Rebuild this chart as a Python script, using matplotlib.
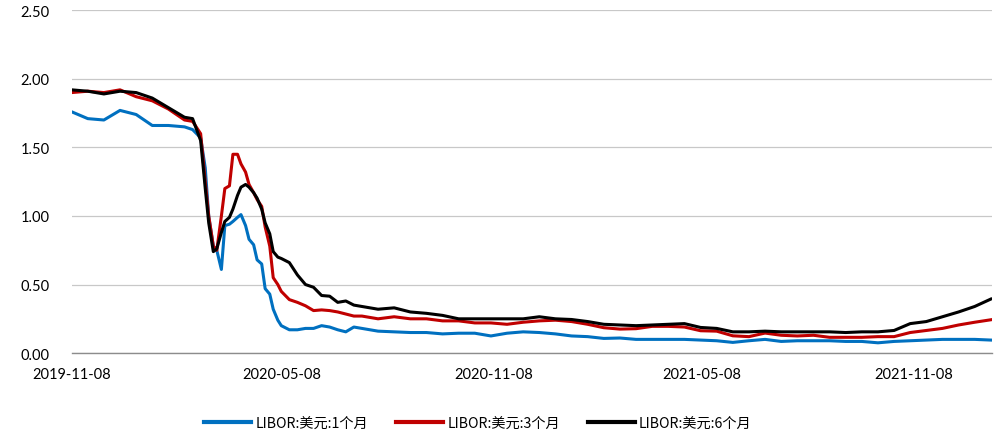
import matplotlib
matplotlib.use("Agg")
import matplotlib.pyplot as plt
import pandas as pd

dates = ["2019-11-08","2019-11-22","2019-12-06","2019-12-20","2020-01-03","2020-01-17","2020-01-31",
         "2020-02-14","2020-02-21","2020-02-28","2020-03-03","2020-03-06","2020-03-10","2020-03-13",
         "2020-03-17","2020-03-20","2020-03-24","2020-03-27","2020-03-31","2020-04-03","2020-04-07",
         "2020-04-10","2020-04-14","2020-04-17","2020-04-21","2020-04-24","2020-04-28","2020-05-01",
         "2020-05-05","2020-05-08","2020-05-15","2020-05-22","2020-05-29","2020-06-05","2020-06-12",
         "2020-06-19","2020-06-26","2020-07-03","2020-07-10","2020-07-17","2020-07-31","2020-08-14",
         "2020-08-28","2020-09-11","2020-09-25","2020-10-09","2020-10-23","2020-11-06","2020-11-20",
         "2020-12-04","2020-12-18","2021-01-01","2021-01-15","2021-01-29","2021-02-12","2021-02-26",
         "2021-03-12","2021-03-26","2021-04-09","2021-04-23","2021-05-07","2021-05-21","2021-06-04",
         "2021-06-18","2021-07-02","2021-07-16","2021-07-30","2021-08-13","2021-08-27","2021-09-10",
         "2021-09-24","2021-10-08","2021-10-22","2021-11-05","2021-11-19","2021-12-03","2021-12-17",
         "2021-12-31","2022-01-14"]

libor_1m = [1.76,1.71,1.70,1.77,1.74,1.66,1.66,
            1.65,1.63,1.57,1.35,1.00,0.78,0.75,
            0.61,0.93,0.94,0.96,0.99,1.01,0.93,
            0.83,0.79,0.68,0.65,0.47,0.43,0.32,
            0.24,0.20,0.17,0.17,0.18,0.18,0.20,
            0.19,0.17,0.155,0.19,0.18,0.16,0.155,
            0.15,0.15,0.14,0.145,0.145,0.125,0.145,
            0.155,0.15,0.14,0.125,0.12,0.107,0.11,
            0.10,0.10,0.10,0.10,0.095,0.09,0.078,
            0.09,0.10,0.085,0.09,0.09,0.09,0.085,
            0.085,0.075,0.085,0.09,0.095,0.10,0.10,
            0.10,0.095]

libor_3m = [1.90,1.91,1.90,1.92,1.87,1.84,1.78,
            1.70,1.69,1.60,1.25,1.00,0.78,0.75,
            1.00,1.20,1.22,1.45,1.45,1.38,1.32,
            1.23,1.17,1.12,1.07,0.92,0.78,0.55,
            0.50,0.45,0.39,0.37,0.345,0.31,0.315,
            0.31,0.30,0.285,0.27,0.27,0.25,0.265,
            0.25,0.25,0.235,0.235,0.22,0.22,0.21,
            0.225,0.235,0.24,0.23,0.21,0.185,0.175,
            0.178,0.195,0.195,0.19,0.163,0.16,0.126,
            0.12,0.146,0.13,0.125,0.13,0.115,0.115,
            0.115,0.12,0.12,0.15,0.165,0.18,0.205,
            0.225,0.243]

libor_6m = [1.92,1.91,1.89,1.91,1.90,1.86,1.79,
            1.72,1.71,1.55,1.20,0.95,0.74,0.76,
            0.88,0.96,0.99,1.05,1.15,1.21,1.23,
            1.21,1.17,1.13,1.05,0.95,0.87,0.74,
            0.70,0.69,0.66,0.57,0.50,0.48,0.42,
            0.415,0.37,0.38,0.35,0.34,0.32,0.33,
            0.30,0.29,0.275,0.25,0.25,0.25,0.25,
            0.25,0.265,0.25,0.245,0.23,0.21,0.205,
            0.20,0.205,0.21,0.215,0.187,0.18,0.155,
            0.155,0.16,0.155,0.155,0.155,0.155,0.15,
            0.155,0.155,0.165,0.215,0.23,0.265,0.30,
            0.34,0.394]

series_names = ["LIBOR:美元:1个月", "LIBOR:美元:3个月", "LIBOR:美元:6个月"]
series_colors = ["#0070C0", "#C00000", "#000000"]
tick_dates = ["2019-11-08", "2020-05-08", "2020-11-08", "2021-05-08", "2021-11-08"]
y_ticks = [0.0, 0.5, 1.0, 1.5, 2.0, 2.5]

x = pd.to_datetime(dates)

fig = plt.figure(figsize=(10.02, 4.35), dpi=100)
ax = fig.add_axes([0.0715, 0.186, 0.9185, 0.788])

for vals, name, col in zip([libor_1m, libor_3m, libor_6m], series_names, series_colors):
    ax.plot(x, vals, color=col, lw=2.2, label=name, solid_joinstyle="round")

ax.set_ylim(0, 2.5)
ax.set_yticks(y_ticks)
ax.set_yticklabels([f"{v:.2f}" for v in y_ticks])
ax.set_xlim(pd.Timestamp("2019-11-08"), pd.Timestamp("2022-01-15"))
ax.set_xticks(pd.to_datetime(tick_dates))
ax.set_xticklabels(tick_dates)

ax.yaxis.grid(True, color="#C8C8C8", lw=0.9)
ax.set_axisbelow(True)
for s in ["top", "right", "left"]:
    ax.spines[s].set_visible(False)
ax.spines["bottom"].set_color("#8C8C8C")
ax.spines["bottom"].set_linewidth(1.0)
ax.tick_params(axis="both", length=0, labelsize=10.5, colors="#000000")
ax.tick_params(axis="y", pad=16)
ax.tick_params(axis="x", pad=10)
for lab in ax.get_xticklabels() + ax.get_yticklabels():
    lab.set_fontfamily(["Lato", "DejaVu Sans"])

leg = fig.legend(loc="center", bbox_to_anchor=(0.477, 0.026), ncol=3, frameon=False,
                 handlelength=3.3, handletextpad=0.3, columnspacing=2.0,
                 prop={"family": ["Noto Sans CJK SC", "DejaVu Sans"], "size": 10.2})
for line in leg.get_lines():
    line.set_linewidth(3)

fig.savefig("out.png", dpi=100)
